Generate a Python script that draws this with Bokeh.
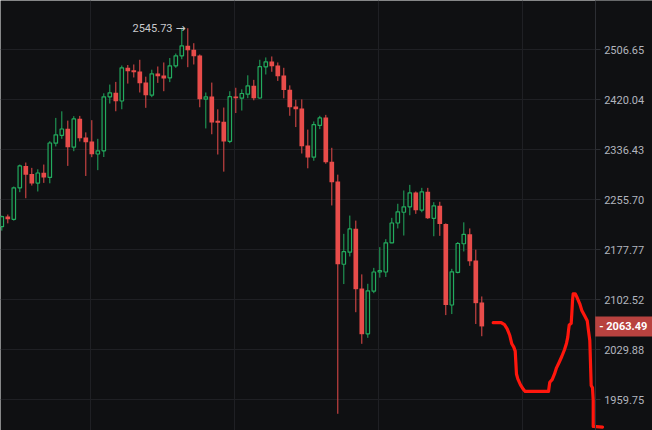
from bokeh.plotting import figure
from bokeh.models import Range1d, FixedTicker, PrintfTickFormatter, Label, LogAxis
from bokeh.core.properties import value
from bokeh.embed import file_html
from bokeh.resources import INLINE

# ---------------- data ----------------
opens = [2213.4, 2229.2, 2224.9, 2274.7, 2310.1, 2297.0, 2282.3, 2299.1, 2291.5, 2347.3,
         2360.4, 2371.3, 2340.7, 2388.2, 2356.6, 2350.1, 2329.5, 2334.8, 2425.1, 2432.1,
         2418.0, 2475.3, 2470.9, 2468.7, 2449.5, 2427.9, 2465.2, 2461.7, 2457.8, 2478.6,
         2496.1, 2513.7, 2506.65, 2496.6, 2421.1, 2425.7, 2384.8, 2383.1, 2350.4, 2425.7,
         2422.8, 2429.6, 2444.0, 2423.1, 2476.8, 2486.2, 2479.1, 2461.7, 2437.2, 2408.8,
         2405.2, 2343.5, 2324.3, 2376.8, 2390.3, 2316.9, 2284.7, 2155.7, 2174.1, 2210.4,
         2119.2, 2052.7, 2115.2, 2144.0, 2144.0, 2188.5, 2219.2, 2236.0, 2244.6, 2267.3,
         2239.2, 2268.4, 2226.5, 2246.2, 2217.6, 2094.8, 2143.4, 2187.0, 2201.5, 2161.4,
         2098.5]
highs = [2230.8, 2232.4, 2276.8, 2312.3, 2315.6, 2306.9, 2304.6, 2312.3, 2350.6, 2389.4,
         2400.5, 2384.8, 2392.4, 2392.8, 2365.2, 2385.6, 2354.5, 2431.1, 2446.1, 2450.7,
         2479.1, 2480.0, 2480.9, 2489.1, 2459.7, 2471.8, 2477.4, 2484.4, 2492.2, 2500.1,
         2545.73, 2545.0, 2518.3, 2498.4, 2432.5, 2449.5, 2403.9, 2406.9, 2434.7, 2440.6,
         2437.9, 2462.1, 2454.2, 2489.1, 2493.2, 2494.9, 2484.4, 2475.1, 2444.7, 2420.0,
         2420.7, 2369.8, 2383.4, 2393.0, 2394.5, 2339.7, 2295.9, 2202.3, 2230.8, 2222.9,
         2140.4, 2126.3, 2150.2, 2181.8, 2194.0, 2227.2, 2249.4, 2270.5, 2279.5, 2268.9,
         2274.7, 2274.7, 2251.9, 2252.5, 2218.6, 2148.8, 2189.7, 2220.2, 2210.7, 2177.9,
         2107.4]
lows = [2207.3, 2218.6, 2222.9, 2267.8, 2258.2, 2278.4, 2268.9, 2282.7, 2282.0, 2341.9,
        2354.5, 2310.1, 2334.1, 2350.1, 2293.8, 2324.3, 2303.2, 2324.6, 2413.7, 2400.6,
        2404.0, 2447.8, 2458.3, 2432.5, 2406.4, 2424.5, 2449.0, 2434.7, 2450.3, 2475.1,
        2490.1, 2476.2, 2480.9, 2407.4, 2371.8, 2362.1, 2328.7, 2300.8, 2347.3, 2397.6,
        2401.8, 2422.8, 2419.2, 2421.9, 2463.5, 2468.2, 2452.4, 2422.6, 2393.0, 2374.1,
        2330.3, 2306.2, 2318.5, 2370.6, 2313.6, 2246.7, 1940.5, 2125.9, 2167.5, 2084.2,
        2038.4, 2047.0, 2112.3, 2135.5, 2136.5, 2187.9, 2210.7, 2199.7, 2231.3, 2233.5,
        2236.0, 2225.5, 2198.6, 2199.2, 2080.0, 2081.5, 2141.9, 2175.2, 2153.3, 2067.0,
        2049.3]
closes = [2229.2, 2224.9, 2274.7, 2310.1, 2295.9, 2281.6, 2298.6, 2291.5, 2347.6, 2361.2,
          2370.8, 2340.7, 2387.7, 2355.5, 2348.9, 2329.2, 2334.8, 2425.1, 2431.9, 2417.7,
          2475.0, 2469.2, 2467.5, 2448.3, 2427.9, 2464.7, 2460.4, 2456.5, 2478.6, 2496.1,
          2513.7, 2506.0, 2495.4, 2421.1, 2425.1, 2381.8, 2381.4, 2350.1, 2425.3, 2422.8,
          2430.8, 2444.0, 2422.8, 2477.0, 2485.6, 2477.9, 2460.4, 2436.7, 2407.4, 2404.0,
          2342.2, 2323.8, 2378.0, 2389.4, 2315.9, 2283.6, 2155.7, 2174.9, 2209.9, 2118.2,
          2052.2, 2115.8, 2144.0, 2146.0, 2188.5, 2219.2, 2236.7, 2244.6, 2266.8, 2239.2,
          2268.4, 2226.5, 2246.2, 2217.6, 2094.8, 2144.2, 2187.4, 2201.5, 2160.2, 2097.5,
          2063.49]

# hand-drawn projection (bar index, price)
draw_x = [81.9, 83.23, 83.78, 84.23, 84.67, 85.0, 85.33, 85.57, 85.67, 85.78, 86.0, 86.45,
          86.9, 87.23, 91.12, 91.23, 91.33, 91.73, 92.12, 92.45, 92.9, 93.33, 93.78, 94.12,
          94.33, 94.45, 94.57, 94.9, 95.0, 95.12, 95.23, 95.57, 95.9, 96.33, 96.67, 97.12,
          97.57, 97.78, 98.0, 98.12, 98.23, 98.45, 98.57, 98.57, 100.12]
draw_y = [2068.9, 2068.9, 2066.0, 2059.9, 2050.3, 2038.4, 2033.6, 2027.9, 2012.2, 1995.6,
          1988.7, 1980.4, 1974.4, 1971.2, 1971.2, 1978.1, 1984.0, 1987.7, 1995.6, 2004.2,
          2012.2, 2020.3, 2029.88, 2039.3, 2047.9, 2057.4, 2065.5, 2067.9, 2081.8, 2101.5,
          2111.4, 2111.4, 2105.5, 2096.6, 2086.7, 2079.3, 2071.9, 2057.4, 2043.2, 2009.9,
          1979.5, 1976.3, 1958.8, 1923.3, 1922.4]

price_ticks = [1959.75, 2029.88, 2102.52, 2177.77, 2255.70, 2336.43, 2420.04, 2506.65]
time_ticks = [14.78, 38.78, 62.78, 86.78]
high_value = 2545.73
high_index = 30
last_price = 2063.49

# ---------------- style ----------------
BG = "#0f1012"
GRID = "#1f2024"
UP = "#22ab5e"
DOWN = "#e84c4a"
AXIS_TXT = "#b2b5be"
AXIS_LINE = "#2c2e33"
FONT = "Roboto"
X0, X1 = -0.2167, 108.45      # visible bar-index span (full width)
Y0, Y1 = 1917.83, 2595.09     # visible price span
AXIS_POS = 98.9               # bar-index where the price scale begins

n = len(closes)
idx = list(range(n))
up_i = [i for i in idx if closes[i] >= opens[i]]
dn_i = [i for i in idx if closes[i] < opens[i]]

p = figure(width=652, height=430, output_backend="svg", toolbar_location=None,
           x_range=Range1d(X0, X1), y_range=Range1d(Y0, Y1),
           y_axis_type="log", y_axis_location=None, x_axis_location=None,
           min_border_left=0, min_border_top=0, min_border_bottom=0, min_border_right=0)
p.background_fill_color = BG
p.border_fill_color = BG
p.outline_line_color = None

p.xgrid.ticker = FixedTicker(ticks=time_ticks)
p.xgrid.grid_line_color = GRID
p.ygrid.ticker = FixedTicker(ticks=price_ticks)
p.ygrid.grid_line_color = GRID

ax = LogAxis(fixed_location=AXIS_POS, ticker=FixedTicker(ticks=price_ticks),
             formatter=PrintfTickFormatter(format="%.2f"))
ax.axis_line_color = AXIS_LINE
ax.major_tick_line_color = AXIS_LINE
ax.major_tick_out = 5
ax.major_tick_in = 0
ax.minor_tick_line_color = None
ax.major_label_standoff = 4
ax.major_label_text_color = AXIS_TXT
ax.major_label_text_font = FONT
ax.major_label_text_font_size = "11px"
p.add_layout(ax, "right")

# price-scale area background (hides grid under the scale)
p.quad(left=[AXIS_POS], right=[X1], bottom=[Y0], top=[Y1], fill_color=BG, line_color=None)

# wicks
p.segment(x0=idx, y0=highs, x1=idx, y1=lows,
          line_color=[UP if closes[i] >= opens[i] else DOWN for i in idx], line_width=1)
# bodies
p.vbar(x=dn_i, width=0.78,
       top=[opens[i] for i in dn_i], bottom=[closes[i] for i in dn_i],
       fill_color=DOWN, line_color=None)
p.vbar(x=up_i, width=0.58,
       top=[closes[i] for i in up_i], bottom=[opens[i] for i in up_i],
       fill_color=BG, line_color=UP, line_width=1.2)

# drawing
p.line(draw_x, draw_y, line_color="#ff170d", line_width=3.2, line_join="round", line_cap="round")

# high marker
p.text(x=[high_index - 1.55], y=[high_value], text=["%.2f" % high_value],
       text_align="right", text_baseline="middle", text_font=value(FONT),
       text_font_size="11px", text_color="#c9cacd")
p.text(x=[high_index - 1.05], y=[high_value], text=["\u2192"],
       text_align="left", text_baseline="middle", text_font=value("DejaVu Sans"),
       text_font_size="12px", text_color="#c9cacd")

# last price label
lbl = Label(x=AXIS_POS, y=last_price, text="- %.2f" % last_price, text_font=FONT,
            text_font_size="11px", text_font_style="bold", text_color="#ffffff",
            text_align="left", text_baseline="middle",
            background_fill_color="#b8423f", padding=(4, 8, 4, 3))
p.add_layout(lbl)

open("out.html", "w").write(file_html(p, INLINE))
